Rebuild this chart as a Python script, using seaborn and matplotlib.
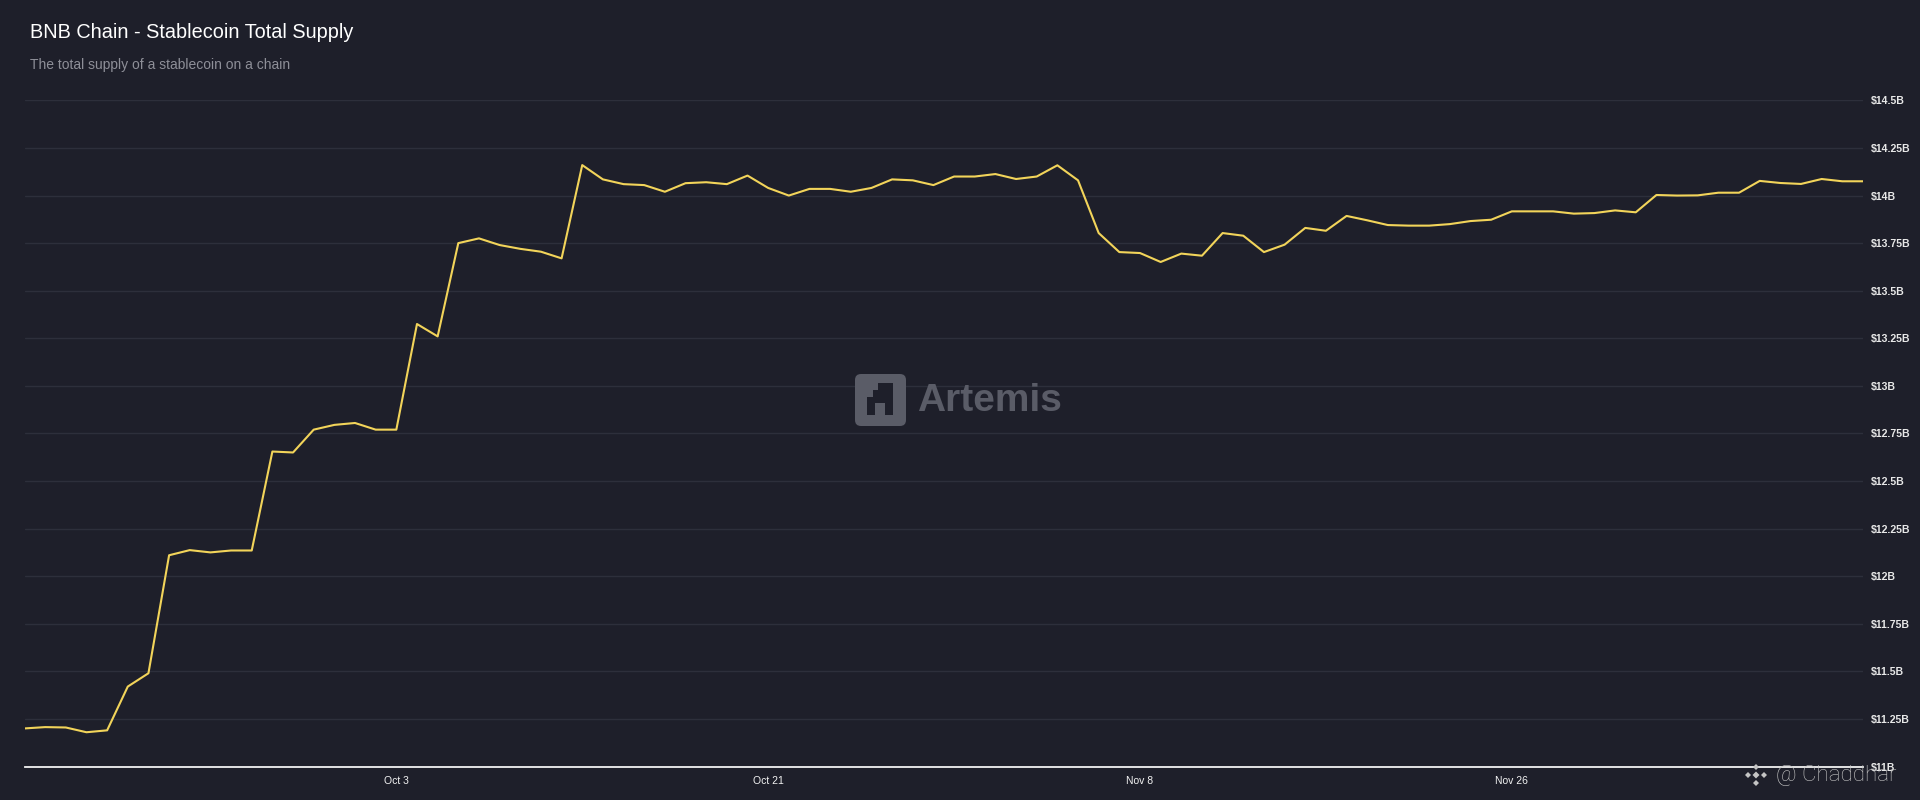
import matplotlib
matplotlib.use("Agg")
import matplotlib.pyplot as plt
import matplotlib.patches as mpatches
import pandas as pd
import seaborn as sns

# daily stablecoin supply on BNB Chain, in billions of USD
start_date = "2024-09-15"
supply_b = [
    11.20, 11.207, 11.205, 11.18, 11.19, 11.42, 11.49, 12.11, 12.137, 12.125,
    12.135, 12.135, 12.655, 12.65, 12.77, 12.795, 12.805, 12.77, 12.77, 13.325,
    13.26, 13.75, 13.775, 13.74, 13.72, 13.705, 13.67, 14.16, 14.085, 14.06,
    14.055, 14.02, 14.065, 14.07, 14.06, 14.105, 14.04, 14.0, 14.035, 14.035,
    14.02, 14.04, 14.085, 14.08, 14.055, 14.10, 14.10, 14.113, 14.087, 14.10,
    14.159, 14.08, 13.803, 13.703, 13.698, 13.651, 13.695, 13.684, 13.803, 13.789,
    13.703, 13.742, 13.83, 13.815, 13.893, 13.87, 13.845, 13.842, 13.842, 13.85,
    13.866, 13.873, 13.917, 13.917, 13.917, 13.905, 13.908, 13.922, 13.912, 14.003,
    14.0, 14.001, 14.015, 14.015, 14.077, 14.066, 14.061, 14.087, 14.075, 14.075,
]
y_ticks = [11, 11.25, 11.5, 11.75, 12, 12.25, 12.5, 12.75, 13, 13.25, 13.5, 13.75, 14, 14.25, 14.5]
x_tick_dates = ["2024-10-03", "2024-10-21", "2024-11-08", "2024-11-26"]
x_tick_labels = ["Oct 3", "Oct 21", "Nov 8", "Nov 26"]

title = "BNB Chain - Stablecoin Total Supply"
subtitle = "The total supply of a stablecoin on a chain"

BG = "#1e1f2a"
GRID = "#2d2f3b"
LINE = "#f2d45a"

df = pd.DataFrame({
    "date": pd.date_range(start_date, periods=len(supply_b), freq="D"),
    "supply": supply_b,
})

sns.set_theme(style="dark")
plt.rcParams["font.family"] = ["Liberation Sans", "DejaVu Sans"]

W, H = 1920, 800
fig = plt.figure(figsize=(W / 100, H / 100), dpi=100, facecolor=BG)
ax = fig.add_axes([24.5 / W, 1 - 766.5 / H, (1863 - 24.5) / W, (766.5 - 100.4) / H])
ax.set_facecolor(BG)

sns.lineplot(data=df, x="date", y="supply", ax=ax, color=LINE, linewidth=1.5)

ax.set_xlim(df["date"].iloc[0], df["date"].iloc[-1])
ax.set_ylim(11, 14.5)
ax.set_yticks(y_ticks)
ax.set_yticklabels([f"${v:g}B" for v in y_ticks])
ax.yaxis.tick_right()
ax.set_xticks(pd.to_datetime(x_tick_dates))
ax.set_xticklabels(x_tick_labels)
ax.set_xlabel("")
ax.set_ylabel("")

ax.grid(axis="y", color=GRID, linewidth=1)
ax.grid(axis="x", visible=False)
ax.tick_params(axis="y", length=0, pad=6, labelsize=7.6, labelcolor="#e8e8e8")
ax.tick_params(axis="x", length=0, pad=7, labelsize=7.5, labelcolor="#f2f2f2")
for lab in ax.get_yticklabels():
    lab.set_fontweight("bold")
for side in ["top", "left", "right"]:
    ax.spines[side].set_visible(False)
ax.spines["bottom"].set_color("#f2f2f2")
ax.spines["bottom"].set_linewidth(1.3)

fig.text(30 / W, 1 - 33 / H, title, fontsize=14.3, color="white", va="center", ha="left")
fig.text(30 / W, 1 - 65 / H, subtitle, fontsize=10, color="#8e8f98", va="center", ha="left")

# Artemis watermark
WM = "#5a5c67"
fig.add_artist(mpatches.FancyBboxPatch((855, H - 426), 51, 52,
                                       boxstyle="round,pad=0,rounding_size=6",
                                       transform=None, facecolor=WM, edgecolor="none"))
for rx, ry, rw, rh in [(30, 9, 8, 32), (23, 9, 8, 7), (18, 16, 12, 7), (12, 23, 26, 6), (12, 23, 8, 18)]:
    fig.add_artist(mpatches.Rectangle((855 + rx, H - 374 - ry - rh), rw, rh,
                                      transform=None, facecolor=BG, edgecolor="none"))
fig.text(917 / W, 1 - 401 / H, "Artemis", fontsize=28, fontweight="bold", color=WM,
         va="center", ha="left")

# bottom-right author mark
MARK = "#c4c4c4"
cx, cy = 1756, H - 775
for dx, dy, r in [(0, 0, 3.5), (0, 8, 3), (0, -8, 3), (8, 0, 3), (-8, 0, 3)]:
    fig.add_artist(mpatches.RegularPolygon((cx + dx, cy + dy), 4, radius=r,
                                           transform=None, facecolor=MARK, edgecolor="none"))
fig.text(1776 / W, 1 - 775 / H, "@ Chaddhar", fontsize=16, color=MARK,
         family=["Roboto", "DejaVu Sans"], fontweight="light", va="center", ha="left")

fig.savefig("out.png", dpi=100, facecolor=BG)
